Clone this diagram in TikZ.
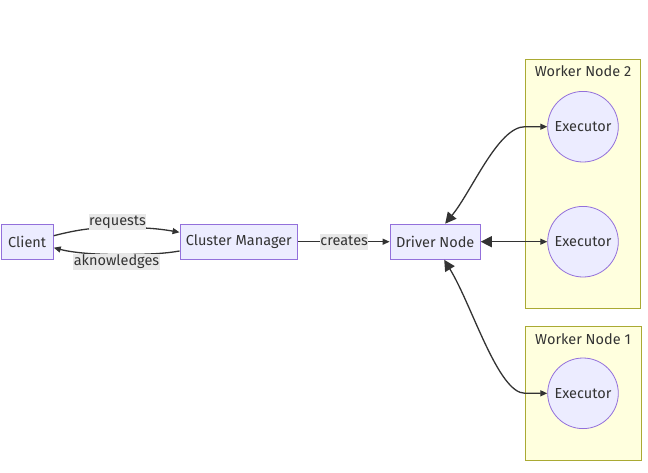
\documentclass[tikz,border=0pt]{standalone}
\usepackage{fontspec}
\setmainfont{Fira Sans}
\usetikzlibrary{arrows.meta,calc}
\definecolor{nodefill}{HTML}{ECECFF}
\definecolor{nodeline}{HTML}{9370DB}
\definecolor{clusterfill}{HTML}{FFFFDE}
\definecolor{clusterline}{HTML}{AAAA33}
\definecolor{edgecol}{HTML}{333333}
\definecolor{labelbg}{HTML}{E8E8E8}
\definecolor{txt}{HTML}{333333}
\begin{document}
\begin{tikzpicture}[x=1pt,y=-1pt,
  font=\fontsize{14.5}{16}\selectfont,
  box/.style={draw=nodeline,fill=nodefill,line width=0.8pt,text=txt,inner sep=0pt,minimum height=35.3pt},
  exec/.style={circle,draw=nodeline,fill=nodefill,line width=0.8pt,text=txt,inner sep=0pt,minimum size=70.6pt},
  cluster/.style={draw=clusterline,fill=clusterfill,line width=0.8pt},
  ctitle/.style={text=txt,inner sep=0pt},
  elabel/.style={fill=labelbg,text=txt,inner xsep=0.5pt,inner ysep=1pt,text height=10.5pt,text depth=3.5pt},
  conn/.style={draw=edgecol,line width=1.3pt},
  smalltip/.style={-{Triangle[length=7pt,width=6pt]}},
  bothtip/.style={{Triangle[length=11pt,width=11pt]}-{Triangle[length=7pt,width=6pt]}}
]
\useasboundingbox (0,0) rectangle (648,472);

% clusters
\node[cluster,minimum width=115.4pt,minimum height=249pt,inner sep=0pt] (wn2) at (583,183.8) {};
\node[ctitle] (wn2t) at (583,71.5) {Worker Node 2};
\node[cluster,minimum width=115.3pt,minimum height=133.3pt,inner sep=0pt] (wn1) at (583.35,393.35) {};
\node[ctitle] (wn1t) at (583,339) {Worker Node 1};

% nodes
\node[box,minimum width=52.3pt] (client) at (27.2,241.7) {Client};
\node[box,minimum width=117.7pt] (cm) at (238.8,241.7) {Cluster Manager};
\node[box,minimum width=90.3pt] (driver) at (435.2,241.7) {Driver Node};
\node[exec] (e2a) at (583,126.7) {Executor};
\node[exec] (e2b) at (583,241.7) {Executor};
\node[exec] (e1) at (583,393.3) {Executor};

% edges
\draw[conn,smalltip] ([yshift=6pt]client.east) .. controls (80,229) and (95,227.5) .. (117,227.5)
   .. controls (140,227.5) and (155,228) .. ([yshift=9.4pt]cm.west);
\draw[conn,smalltip] ([yshift=-9.3pt]cm.west) .. controls (165,253.5) and (150,254.5) .. (117,254.5)
   .. controls (90,254.5) and (70,252) .. ([yshift=-6pt]client.east);
\draw[conn,smalltip] (cm.east) -- (driver.west);
\draw[conn,bothtip] (driver.east) -- (e2b.west);
\draw[conn,bothtip] ([xshift=10pt]driver.north) .. controls (472,191) and (498,126.7) .. (525,126.7) -- (e2a.west);
\draw[conn,bothtip] ([xshift=9pt]driver.south) .. controls (472,305) and (498,393.3) .. (525,393.3) -- (e1.west);

% edge labels
\node[elabel] (lreq) at (117.5,221.5) {requests};
\node[elabel] (lack) at (116.5,261.5) {aknowledges};
\node[elabel] (lcre) at (344.2,241.5) {creates};
\end{tikzpicture}
\end{document}
